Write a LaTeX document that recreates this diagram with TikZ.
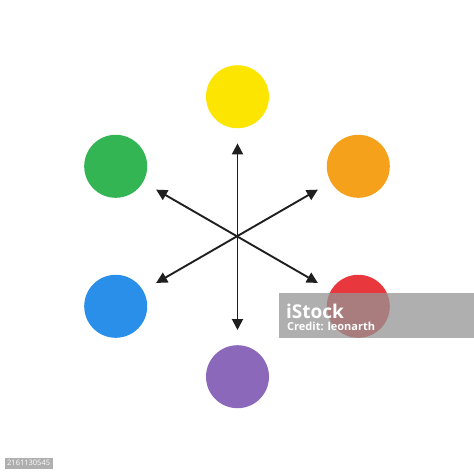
\documentclass[tikz,border=0pt]{standalone}
\usepackage{fontspec}
\setmainfont{Open Sans}
\usetikzlibrary{arrows.meta}
\definecolor{cyellow}{HTML}{FCE500}
\definecolor{cgreen}{HTML}{34B553}
\definecolor{corange}{HTML}{F6A11B}
\definecolor{cblue}{HTML}{2A8FE8}
\definecolor{cred}{HTML}{E8383D}
\definecolor{cpurple}{HTML}{8C68BA}
\definecolor{wmgray}{HTML}{959595}
\tikzset{
  dot/.style={circle,minimum size=63pt,inner sep=0pt,draw=none},
  arr/.style={{Triangle[length=11pt,width=11pt]}-{Triangle[length=11pt,width=11pt]},line width=1.9pt,draw=black!88,shorten >=15pt,shorten <=15pt},
  wmbox/.style={fill=wmgray,fill opacity=0.75,draw=none},
  wmtext/.style={text=white,anchor=west,inner sep=0pt}
}
\begin{document}
\begin{tikzpicture}[x=1pt,y=-1pt]
\useasboundingbox (0,0) rectangle (474,474);
\fill[white] (0,0) rectangle (474,474);
\node[dot,fill=cyellow] (yellow) at (237.5,96.7) {};
\node[dot,fill=cgreen] (green) at (115.7,166.3) {};
\node[dot,fill=corange] (orange) at (358.3,166.3) {};
\node[dot,fill=cblue] (blue) at (115.7,306.3) {};
\node[dot,fill=cred] (red) at (358.3,306.3) {};
\node[dot,fill=cpurple] (purple) at (237.5,376.7) {};
\draw[arr] (yellow) -- (purple);
\draw[arr] (green) -- (red);
\draw[arr] (orange) -- (blue);
% watermark
\fill[wmbox] (279,293) rectangle (474,338);
\node[wmtext,font=\fontsize{19}{19}\selectfont\bfseries] (istock) at (286,311) {iStock};
\node[wmtext,font=\fontsize{11}{11}\selectfont\bfseries] (credit) at (287,326) {Credit: leonarth};
\fill[wmbox] (5,457.5) rectangle (53,468.5);
\node[wmtext,font=\fontsize{7.5}{7.5}\selectfont] (num) at (7,463) {2161130545};
\end{tikzpicture}
\end{document}
